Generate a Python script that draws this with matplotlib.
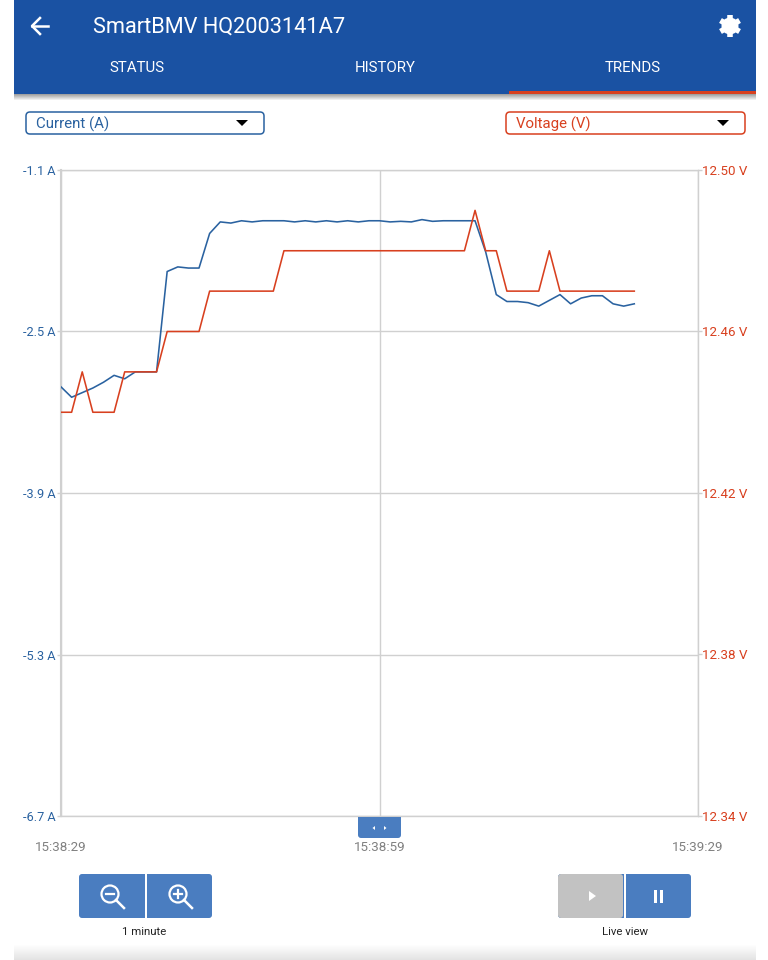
import numpy as np
import matplotlib
matplotlib.use('Agg')
import matplotlib.pyplot as plt
from matplotlib.patches import Rectangle, FancyBboxPatch, Circle, Polygon
from matplotlib.transforms import ScaledTranslation

plt.rcParams['font.family'] = ['Roboto', 'DejaVu Sans']

# one sample per second, starting at 15:38:29
seconds = list(range(55))
current = [-2.98, -3.07, -3.03, -2.99, -2.94, -2.88, -2.91, -2.85, -2.85, -2.85,
           -1.98, -1.94, -1.95, -1.95, -1.65, -1.55, -1.56, -1.54, -1.55, -1.54,
           -1.54, -1.54, -1.55, -1.54, -1.55, -1.54, -1.55, -1.54, -1.55, -1.54,
           -1.54, -1.55, -1.545, -1.55, -1.53, -1.545, -1.54, -1.54, -1.54, -1.54,
           -1.81, -2.18, -2.24, -2.24, -2.25, -2.28, -2.23, -2.18, -2.26, -2.21,
           -2.19, -2.19, -2.26, -2.28, -2.26]
voltage = [12.44, 12.44, 12.45, 12.44, 12.44, 12.44, 12.45, 12.45, 12.45, 12.45,
           12.46, 12.46, 12.46, 12.46, 12.47, 12.47, 12.47, 12.47, 12.47, 12.47,
           12.47, 12.48, 12.48, 12.48, 12.48, 12.48, 12.48, 12.48, 12.48, 12.48,
           12.48, 12.48, 12.48, 12.48, 12.48, 12.48, 12.48, 12.48, 12.48, 12.49,
           12.48, 12.48, 12.47, 12.47, 12.47, 12.47, 12.48, 12.47, 12.47, 12.47,
           12.47, 12.47, 12.47, 12.47, 12.47]

current_ticks = [-6.7, -5.3, -3.9, -2.5, -1.1]
voltage_ticks = [12.34, 12.38, 12.42, 12.46, 12.50]
time_ticks = [0, 30, 60]
time_labels = ['15:38:29', '15:38:59', '15:39:29']

BLUE = '#1a52a3'
LINE_BLUE = '#2a62a0'
RED = '#d8401f'
BTN = '#4a7dc0'
GRID = '#d0d0d0'

W, H = 768, 960
fig = plt.figure(figsize=(W / 100, H / 100), dpi=100, facecolor='white')

# full-figure pixel layer for the app chrome
bg = fig.add_axes([0, 0, 1, 1], zorder=0)
bg.set_xlim(0, W)
bg.set_ylim(H, 0)
bg.axis('off')

bg.add_patch(Rectangle((14, 0), 742, 94, color=BLUE, lw=0))
for k in range(6):
    bg.add_patch(Rectangle((14, 94 + k), 742, 1, color='#555555', alpha=0.55 * (1 - k / 6), lw=0))
bg.add_patch(Rectangle((509, 91), 247, 3, color=RED, lw=0))

bg.text(93, 27, 'SmartBMV HQ2003141A7', color='white', fontsize=15.7, va='center', ha='left')
bg.plot([32, 48], [26, 26], color='white', lw=1.8)
bg.plot([40, 32, 40], [18, 26, 34], color='white', lw=1.8)
# gear icon
for a in np.deg2rad([30, 90, 150]):
    bg.plot([730 - 11 * np.cos(a), 730 + 11 * np.cos(a)], [26 - 11 * np.sin(a), 26 + 11 * np.sin(a)],
            color='white', lw=4, solid_capstyle='butt')
bg.add_patch(Circle((730, 26), 8.5, color='white', lw=0))
bg.add_patch(Circle((730, 26), 3.5, color=BLUE, lw=0))
for x, s in [(137.5, 'STATUS'), (385, 'HISTORY'), (633, 'TRENDS')]:
    bg.text(x, 68, s, color='white', fontsize=10.8, ha='center', va='center')

for x0, x1, col, s in [(26, 264, LINE_BLUE, 'Current (A)'), (506, 745, RED, 'Voltage (V)')]:
    bg.add_patch(FancyBboxPatch((x0, 112), x1 - x0, 22, boxstyle='round,pad=0,rounding_size=4',
                                fc='white', ec=col, lw=1.1))
    bg.text(x0 + 10, 124, s, color=col, fontsize=10.8, va='center', ha='left')
    bg.add_patch(Polygon([[x1 - 28, 120], [x1 - 16, 120], [x1 - 22, 126]], color='black', lw=0))

# zoom and live view buttons
bg.add_patch(FancyBboxPatch((79, 874), 133, 44, boxstyle='round,pad=0,rounding_size=3', fc=BTN, ec='none'))
bg.add_patch(FancyBboxPatch((558, 874), 133, 44, boxstyle='round,pad=0,rounding_size=3', fc=BTN, ec='none'))
bg.add_patch(FancyBboxPatch((558, 874), 65, 44, boxstyle='round,pad=0,rounding_size=3', fc='#c2c2c2', ec='none'))
bg.add_patch(Rectangle((144.5, 874), 2, 44, color='white', lw=0))
bg.add_patch(Rectangle((623.5, 874), 2, 44, color='white', lw=0))
for cx, plus in [(110, False), (178, True)]:
    bg.add_patch(Circle((cx, 894), 8.5, fc='none', ec='white', lw=1.6))
    bg.plot([cx + 6, cx + 14], [900, 908], color='white', lw=1.8)
    bg.plot([cx - 4, cx + 4], [894, 894], color='white', lw=1.6)
    if plus:
        bg.plot([cx, cx], [890, 898], color='white', lw=1.6)
bg.add_patch(Polygon([[589, 891], [589, 901], [596, 896]], color='white', lw=0))
bg.add_patch(Rectangle((654, 890), 3, 13, color='white', lw=0))
bg.add_patch(Rectangle((660, 890), 3, 13, color='white', lw=0))
bg.text(144, 932, '1 minute', color='#222222', fontsize=8.2, ha='center', va='center')
bg.text(625, 932, 'Live view', color='#222222', fontsize=8.2, ha='center', va='center')

# grey strip at the bottom
for k in range(16):
    g = 1 - 0.11 * k / 15
    bg.add_patch(Rectangle((14, 944 + k), 742, 1, color=(g, g, g), lw=0))

# chart
ax = fig.add_axes([61 / W, 1 - 816 / H, 637 / W, 646 / H], zorder=1)
ax.patch.set_alpha(0)
ax.set_xlim(0, 60)
ax.set_ylim(-6.7, -1.1)
ax.set_yticks(current_ticks)
ax.set_yticklabels([f'{v:.1f} A' for v in current_ticks], color=LINE_BLUE, fontsize=9.2)
ax.set_xticks(time_ticks)
ax.set_xticklabels(time_labels, color='#808080', fontsize=9.6)
shift = ScaledTranslation(1.5 / 100, 0, fig.dpi_scale_trans)
for lab in ax.get_xticklabels():
    lab.set_transform(lab.get_transform() + shift)
ax.tick_params(axis='y', length=3, width=1, color=GRID, pad=1)
ax.tick_params(axis='x', length=0, pad=18)
ax.grid(True, color=GRID, lw=1)
ax.set_axisbelow(True)
for spine in ax.spines.values():
    spine.set_color(GRID)
    spine.set_linewidth(1)
ax.spines['left'].set_linewidth(1.5)
ax.plot(seconds, current, color=LINE_BLUE, lw=1.15, zorder=3)

ax2 = ax.twinx()
ax2.set_ylim(12.34, 12.50)
ax2.set_yticks(voltage_ticks)
ax2.set_yticklabels([f'{v:.2f} V' for v in voltage_ticks], color=RED, fontsize=9.6)
ax2.tick_params(axis='y', length=3, width=1, color=GRID, pad=0)
for spine in ax2.spines.values():
    spine.set_visible(False)
ax2.plot(seconds, voltage, color=RED, lw=1.15, zorder=4)

# slider handle under the middle of the x axis
top = fig.add_axes([0, 0, 1, 1], zorder=2)
top.set_xlim(0, W)
top.set_ylim(H, 0)
top.axis('off')
top.add_patch(FancyBboxPatch((358, 817), 43, 21, boxstyle='round,pad=0,rounding_size=3', fc=BTN, ec='none'))
top.add_patch(Rectangle((358, 817), 43, 6, color=BTN, lw=0))
top.add_patch(Polygon([[375, 826], [375, 830], [372.5, 828]], color='white', lw=0))
top.add_patch(Polygon([[384, 826], [384, 830], [386.5, 828]], color='white', lw=0))

fig.savefig('out.png', dpi=100, facecolor='white')
